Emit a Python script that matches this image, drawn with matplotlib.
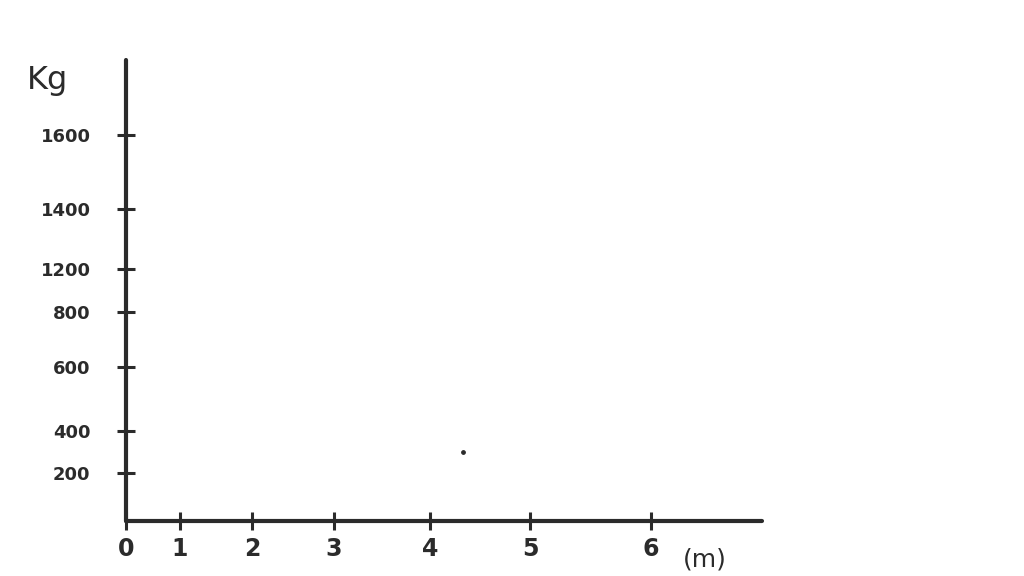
import numpy as np
import matplotlib
matplotlib.use("Agg")
import matplotlib.pyplot as plt

# tick values written on the sketch
x_ticks = [0, 1, 2, 3, 4, 5, 6]
x_labels = ["0", "1", "2", "3", "4", "5", "6"]
y_ticks = [200, 400, 600, 800, 1200, 1400, 1600]
y_labels = ["200", "400", "600", "800", "1200", "1400", "1600"]

# the lone dot on the sheet (m, kg)
dot_x = [4.33]
dot_y = [300]

# hand drawn spacing of the ticks (pixels from the origin) -> used as the axis scale
x_anchor_val = [0, 1, 2, 3, 4, 5, 6, 7]
x_anchor_px = [0, 54, 126, 208, 304, 404, 525, 636]
y_anchor_val = [0, 200, 400, 600, 800, 1200, 1400, 1600, 1800]
y_anchor_px = [0, 48, 90, 154, 209, 252, 312, 386, 461]

ink = "#2b2b2b"

def fwd_x(v):
    return np.interp(v, x_anchor_val, x_anchor_px)

def inv_x(p):
    return np.interp(p, x_anchor_px, x_anchor_val)

def fwd_y(v):
    return np.interp(v, y_anchor_val, y_anchor_px)

def inv_y(p):
    return np.interp(p, y_anchor_px, y_anchor_val)

fig = plt.figure(figsize=(10.24, 5.76), dpi=100)
fig.patch.set_facecolor("white")
# axes box: origin at (126, 521) px, right end 762, top 60
ax = fig.add_axes([126 / 1024, (576 - 521) / 576, (762 - 126) / 1024, (521 - 60) / 576])
ax.set_xscale("function", functions=(fwd_x, inv_x))
ax.set_yscale("function", functions=(fwd_y, inv_y))
ax.set_xlim(0, 7)
ax.set_ylim(0, 1800)

for s in ["top", "right"]:
    ax.spines[s].set_visible(False)
for s in ["left", "bottom"]:
    ax.spines[s].set_linewidth(3)
    ax.spines[s].set_color(ink)
    ax.spines[s].set_capstyle("round")

ax.set_xticks(x_ticks)
ax.set_xticklabels(x_labels)
ax.set_yticks(y_ticks)
ax.set_yticklabels(y_labels)
ax.xaxis.set_minor_locator(matplotlib.ticker.NullLocator())
ax.yaxis.set_minor_locator(matplotlib.ticker.NullLocator())
ax.tick_params(axis="x", direction="inout", length=13, width=2.2, color=ink,
               labelsize=17, labelcolor=ink, pad=5)
ax.tick_params(axis="y", direction="inout", length=13, width=2.2, color=ink,
               labelsize=13, labelcolor=ink, pad=19)
for lab in ax.get_xticklabels() + ax.get_yticklabels():
    lab.set_fontweight("bold")

ax.scatter(dot_x, dot_y, s=6, color=ink, clip_on=False)

fig.text(48 / 1024, 1 - 80 / 576, "Kg", fontsize=23, color=ink, ha="center", va="center")
fig.text(705 / 1024, 1 - 560 / 576, "(m)", fontsize=18, color=ink, ha="center", va="center")

fig.savefig("out.png", dpi=100, facecolor="white")
